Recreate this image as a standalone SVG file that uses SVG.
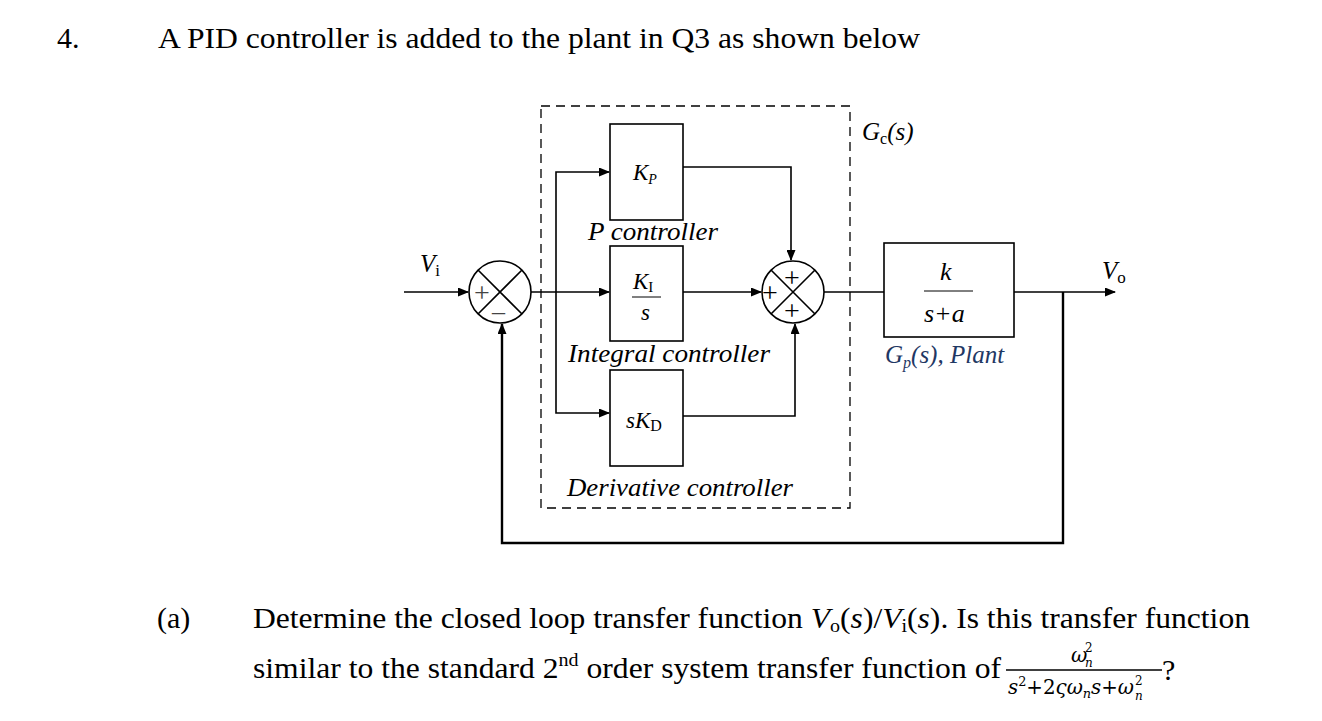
<svg xmlns="http://www.w3.org/2000/svg" width="1322" height="721" viewBox="0 0 1322 721">
<style>
text{font-family:"Liberation Serif",serif;fill:#000}
.i{font-style:italic}
.b{fill:none;stroke:#000;stroke-width:1.6}
.l{fill:none;stroke:#000;stroke-width:1.6}
.f{fill:none;stroke:#000;stroke-width:2.4}
.m{font-family:"DejaVu Serif",serif;font-style:italic}
</style>
<defs><marker id="a" markerWidth="11" markerHeight="9" refX="10" refY="4.5" orient="auto" markerUnits="userSpaceOnUse"><path d="M0,0L11,4.5L0,9z" fill="#000"/></marker></defs>
<rect width="1322" height="721" fill="#fff"/>
<text x="57" y="48" font-size="30">4.</text>
<text x="158" y="48" font-size="30" textLength="762" lengthAdjust="spacingAndGlyphs">A PID controller is added to the plant in Q3 as shown below</text>
<rect x="541" y="106" width="309" height="402" fill="none" stroke="#000" stroke-width="1.3" stroke-dasharray="9,6"/>
<g id="sum1"><circle cx="500" cy="292" r="31" class="b"/><path d="M478,270L522,314M522,270L478,314" class="b"/><text x="474" y="302" font-size="28" style="fill:#444">+</text><text x="492" y="320" font-size="26" style="fill:#444">–</text></g>
<g id="kp"><rect x="610" y="124" width="73" height="96" class="b"/><text x="633" y="180" font-size="23" class="i">K<tspan font-size="14" dy="4">P</tspan></text><text x="588" y="240" font-size="25" class="i" textLength="130" lengthAdjust="spacingAndGlyphs">P controller</text></g>
<g id="ki"><rect x="610" y="246" width="73" height="95" class="b"/><text x="633" y="289" font-size="23" class="i">K<tspan font-size="15" dy="3" font-style="normal">I</tspan></text><line x1="632" y1="297" x2="661" y2="297" stroke="#000"/><text x="641" y="320" font-size="23" class="i">s</text><text x="568" y="362" font-size="25" class="i" textLength="202" lengthAdjust="spacingAndGlyphs">Integral controller</text></g>
<g id="kd"><rect x="610" y="370" width="73" height="96" class="b"/><text x="626" y="428" font-size="23" class="i">sK<tspan font-size="16" dy="3" font-style="normal">D</tspan></text><text x="567" y="496" font-size="25" class="i" textLength="226" lengthAdjust="spacingAndGlyphs">Derivative controller</text></g>
<g id="sum2"><circle cx="793" cy="292" r="31" class="b"/><path d="M771,270L815,314M815,270L771,314" class="b"/><text x="784" y="287" font-size="28">+</text><text x="762" y="302" font-size="28">+</text><text x="784" y="320" font-size="28">+</text></g>
<g id="plant"><rect x="884" y="243" width="130" height="94" class="b"/><text x="940" y="280" font-size="26" class="i">k</text><line x1="924" y1="291" x2="973" y2="291" stroke="#000"/><text x="924" y="322" font-size="26" class="i">s+a</text><text x="885" y="363" font-size="25" class="i" style="fill:#1f3864">G<tspan font-size="16" dy="5">p</tspan><tspan dy="-5">(s), Plant</tspan></text></g>
<text x="862" y="140" font-size="25" class="i">G<tspan font-size="16" dy="4" font-style="normal">c</tspan><tspan dy="-4">(s)</tspan></text>
<text x="420" y="272" font-size="25" class="i">V<tspan font-size="17" dy="4" font-style="normal">i</tspan></text>
<text x="1102" y="279" font-size="25" class="i">V<tspan font-size="17" dy="4" font-style="normal">o</tspan></text>
<g id="connectors">
<path d="M404,292H468" class="l" marker-end="url(#a)"/>
<path d="M531,292H609" class="l" marker-end="url(#a)"/>
<path d="M556,292V172H609" class="l" marker-end="url(#a)"/>
<path d="M556,292V413H609" class="l" marker-end="url(#a)"/>
<path d="M683,292H761" class="l" marker-end="url(#a)"/>
<path d="M683,167H791V260" class="l" marker-end="url(#a)"/>
<path d="M683,416H795V324" class="l" marker-end="url(#a)"/>
<path d="M824,292H884" class="l"/>
<path d="M1014,292H1115" class="l" marker-end="url(#a)"/>
<path d="M1063,292V543H502V324" class="f" marker-end="url(#a)"/>
</g>
<text x="157" y="628" font-size="30">(a)</text>
<text x="253" y="628" font-size="30" textLength="997" lengthAdjust="spacingAndGlyphs">Determine the closed loop transfer function <tspan class="i">V</tspan><tspan font-size="19" dy="4">o</tspan><tspan dy="-4">(</tspan><tspan class="i">s</tspan>)/<tspan class="i">V</tspan><tspan font-size="19" dy="4">i</tspan><tspan dy="-4">(</tspan><tspan class="i">s</tspan>). Is this transfer function</text>
<text x="253" y="678" font-size="30" textLength="748" lengthAdjust="spacingAndGlyphs">similar to the standard 2<tspan font-size="19" dy="-12">nd</tspan><tspan dy="12"> order system transfer function of</tspan></text>
<line x1="1006" y1="670" x2="1162" y2="670" stroke="#000" stroke-width="1.6"/>
<text x="1071" y="662" font-size="20" class="m">ω</text>
<text x="1085" y="652" font-size="12" style="font-family:'DejaVu Serif',serif">2</text>
<text x="1085" y="667" font-size="12" class="m">n</text>
<text x="1008" y="694" font-size="20" class="m" textLength="126" lengthAdjust="spacingAndGlyphs">s<tspan font-size="13" dy="-8" font-style="normal">2</tspan><tspan dy="8" font-style="normal">+2</tspan>ςω<tspan font-size="13" dy="4">n</tspan><tspan dy="-4">s</tspan><tspan font-style="normal">+</tspan>ω</text>
<text x="1135" y="685" font-size="12" style="font-family:'DejaVu Serif',serif">2</text>
<text x="1135" y="700" font-size="12" class="m">n</text>
<text x="1162" y="680" font-size="30">?</text>
</svg>
